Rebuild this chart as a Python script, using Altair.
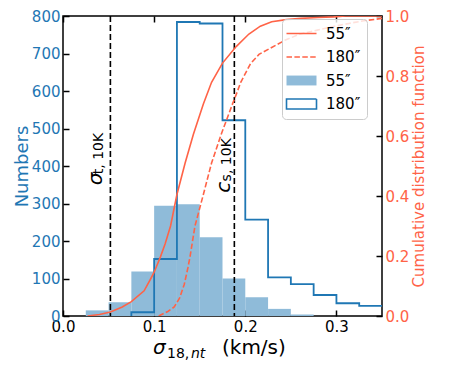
import altair as alt
import pandas as pd

FONT = "DejaVu Sans"
BLUE = "#1f77b4"
LIGHT = "#8fbbd9"
RED = "#ff6347"

# ---- data ----
# 55" histogram (filled), bins of 0.025
h55_left = [0.025, 0.05, 0.075, 0.1, 0.125, 0.15, 0.175, 0.2, 0.225, 0.25]
h55_count = [15, 37, 119, 294, 298, 210, 100, 50, 19, 4]
bin_width = 0.025

# 180" histogram (step outline): edges and heights held from each edge
h180_edge = [0.075, 0.075, 0.1, 0.125, 0.15, 0.175, 0.2, 0.225, 0.25, 0.275, 0.3, 0.325, 0.35]
h180_count = [0, 10, 152, 784, 780, 522, 257, 103, 85, 56, 34, 27, 27]

# cumulative distribution functions
cdf55_x = [0.027, 0.04, 0.052, 0.065, 0.075, 0.089, 0.0964, 0.1, 0.107, 0.112, 0.118,
           0.125, 0.134, 0.143, 0.154, 0.163, 0.175, 0.19, 0.204, 0.2165, 0.229,
           0.245, 0.261, 0.28, 0.297, 0.31, 0.35]
cdf55_y = [0.0, 0.005, 0.013, 0.03, 0.048, 0.084, 0.125, 0.146, 0.198, 0.24, 0.30,
           0.405, 0.51, 0.605, 0.707, 0.779, 0.843, 0.898, 0.94, 0.966, 0.981,
           0.988, 0.992, 0.995, 0.997, 1.0, 1.0]
cdf180_x = [0.105, 0.115, 0.122, 0.128, 0.133, 0.137, 0.1394, 0.1448, 0.154, 0.163,
            0.1735, 0.186, 0.19, 0.195, 0.2057, 0.215, 0.2434, 0.26, 0.279, 0.3,
            0.315, 0.33, 0.35]
cdf180_y = [0.0, 0.015, 0.03, 0.06, 0.105, 0.16, 0.198, 0.30, 0.405, 0.51,
            0.605, 0.707, 0.738, 0.779, 0.841, 0.872, 0.919, 0.94, 0.953, 0.967,
            0.976, 0.984, 0.992]

vline_x = [0.052, 0.188]

sym_text = ["σ", "c"]
sym_x = [0.0366, 0.1769]
sym_y = [349, 329]
sub_text = ["t, 10K", "s, 10K"]
sub_x = [0.0398, 0.1796]
sub_y = [378, 359]

legend_keys = ["a", "b", "c", "d"]
legend_labels = ["55″", "180″", "55″", "180″"]

x_ticks = [0.0, 0.1, 0.2, 0.3]
y_ticks = list(range(0, 801, 100))
cdf_ticks = [0.0, 0.2, 0.4, 0.6, 0.8, 1.0]

xtitle_parts = ["σ", "18,", "nt", "(km/s)"]

# ---- frames ----
df55 = pd.DataFrame({"left": h55_left, "count": h55_count})
df55["right"] = df55["left"] + bin_width
df55["base"] = 0
df180 = pd.DataFrame({"edge": h180_edge, "count": h180_count, "i": list(range(len(h180_edge)))})
dfc55 = pd.DataFrame({"x": cdf55_x, "y": cdf55_y})
dfc180 = pd.DataFrame({"x": cdf180_x, "y": cdf180_y})
dfv = pd.DataFrame({"v": vline_x})
dfsym = pd.DataFrame({"x": sym_x, "y": sym_y, "t": sym_text})
dfsub = pd.DataFrame({"x": sub_x, "y": sub_y, "t": sub_text})
dfleg = pd.DataFrame({"key": legend_keys})
one = pd.DataFrame({"k": [0]})

W, H = 319, 300

xs = alt.Scale(domain=[0, 0.35], nice=False, zero=False)
ys = alt.Scale(domain=[0, 800], nice=False)
ys2 = alt.Scale(domain=[0, 1], nice=False)

x_axis = alt.Axis(values=x_ticks, format=".1f", title=None, labelFontSize=15,
                  labelColor="black", labelFlush=False,
                  tickSize=6, tickWidth=1.5, tickColor="black", offset=-6,
                  labelPadding=3, domain=False, grid=False)
x_top_axis = alt.Axis(orient="top", values=x_ticks, labels=False, title=None,
                      tickSize=6, tickWidth=1.5, tickColor="black", offset=-6,
                      domain=False, grid=False)
y_axis = alt.Axis(values=y_ticks, title="Numbers", titleColor=BLUE, titleFontSize=18,
                  titleFontWeight="normal", labelColor=BLUE, labelFontSize=15,
                  tickSize=6, tickWidth=1.5, tickColor="black", offset=-6,
                  labelPadding=3, domain=False, grid=False, titlePadding=0)
y2_axis = alt.Axis(orient="right", values=cdf_ticks, format=".1f",
                   title="Cumulative distribution function", titleColor=RED,
                   titleFontSize=15, titleFontWeight="normal", titleAngle=270,
                   titleBaseline="top",
                   labelColor=RED, labelFontSize=15, tickSize=6, tickWidth=1.5,
                   tickColor="black", offset=-6, labelPadding=3, domain=False,
                   grid=False, titlePadding=3)

bars = alt.Chart(df55).mark_rect(color=LIGHT).encode(
    x=alt.X("left:Q", scale=xs, axis=x_axis),
    x2="right:Q",
    y=alt.Y("count:Q", scale=ys, axis=y_axis),
    y2="base:Q",
)

step = alt.Chart(df180).mark_line(interpolate="step-after", color=BLUE, strokeWidth=1.8).encode(
    x=alt.X("edge:Q", scale=xs, axis=None),
    y=alt.Y("count:Q", scale=ys, axis=None),
    order=alt.Order("i:Q"),
)

vlines = alt.Chart(dfv).mark_rule(color="black", strokeDash=[6, 3], strokeWidth=1.6).encode(
    x=alt.X("v:Q", scale=xs, axis=None),
)

sym = alt.Chart(dfsym).mark_text(angle=270, align="left", baseline="middle", fontSize=20,
                                 fontStyle="italic", font=FONT, color="black").encode(
    x=alt.X("x:Q", scale=xs, axis=None),
    y=alt.Y("y:Q", scale=ys, axis=None),
    text="t:N",
)
sub = alt.Chart(dfsub).mark_text(angle=270, align="left", baseline="middle", fontSize=14,
                                 font=FONT, color="black").encode(
    x=alt.X("x:Q", scale=xs, axis=None),
    y=alt.Y("y:Q", scale=ys, axis=None),
    text="t:N",
)

def piece(text, px, py, size, style):
    return alt.Chart(one).mark_text(text=text, align="left", baseline="alphabetic",
                                    fontSize=size, fontStyle=style, font=FONT,
                                    color="black").encode(x=alt.value(px), y=alt.value(py))

xt = [
    piece(xtitle_parts[0], 90, H + 38, 20, "italic"),
    piece(xtitle_parts[1], 104, H + 42, 14, "normal"),
    piece(xtitle_parts[2], 128, H + 42, 14, "italic"),
    piece(xtitle_parts[3], 159, H + 38, 20, "normal"),
]

RECT = "M-2,-0.66H2V0.66H-2Z"
LINE = "M-2,0H2"
label_expr = "datum.value == 'a' || datum.value == 'c' ? '55″' : '180″'"
leg = alt.Legend(title=None, orient="none", legendX=219, legendY=3, labelExpr=label_expr,
                 labelFontSize=15, labelFont=FONT, labelColor="black", symbolSize=225,
                 symbolStrokeWidth=1.6, rowPadding=6.5, padding=6, cornerRadius=4,
                 strokeColor="#cccccc", fillColor="rgba(255,255,255,0.8)",
                 symbolOffset=5, labelOffset=16, symbolOpacity=1)

legend_layer = alt.Chart(dfleg).transform_filter("false").mark_point().encode(
    fill=alt.Fill("key:N", scale=alt.Scale(domain=legend_keys,
                  range=["transparent", "transparent", LIGHT, "white"]), legend=leg),
    stroke=alt.Stroke("key:N", scale=alt.Scale(domain=legend_keys,
                      range=[RED, RED, "transparent", BLUE]), legend=leg),
    shape=alt.Shape("key:N", scale=alt.Scale(domain=legend_keys,
                    range=[LINE, LINE, RECT, RECT]), legend=leg),
    strokeDash=alt.StrokeDash("key:N", scale=alt.Scale(domain=legend_keys,
                              range=[[1, 0], [5.5, 2.4], [1, 0], [1, 0]]), legend=leg),
)

c55 = alt.Chart(dfc55).mark_line(color=RED, strokeWidth=1.6, clip=True).encode(
    x=alt.X("x:Q", scale=xs, axis=x_top_axis),
    y=alt.Y("y:Q", scale=ys2, axis=y2_axis),
)
c180 = alt.Chart(dfc180).mark_line(color=RED, strokeWidth=1.6, strokeDash=[5.5, 2.4], clip=True).encode(
    x=alt.X("x:Q", scale=xs, axis=None),
    y=alt.Y("y:Q", scale=ys2, axis=None),
)

chart = alt.layer(bars, step, vlines, sym, sub, *xt, legend_layer, c55, c180).resolve_scale(
    y="independent"
).resolve_axis(
    x="independent", y="independent"
).properties(
    width=W, height=H,
    autosize=alt.AutoSizeParams(type="none"),
    padding={"left": 55, "top": 8, "right": 84, "bottom": 46},
).configure(font=FONT).configure_view(stroke="black", strokeWidth=1.5).configure_axis(
    labelFont=FONT, titleFont=FONT
)

chart.save("out.html", embed_options={"renderer": "svg", "actions": False})
